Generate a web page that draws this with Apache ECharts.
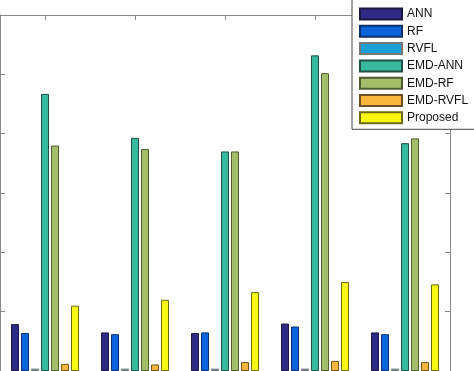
<!DOCTYPE html>
<html><head><meta charset="utf-8">
<script src="https://cdn.jsdelivr.net/npm/echarts@6/dist/echarts.min.js"></script>
<style>html,body{margin:0;padding:0;background:#fff}#c{width:474px;height:371px}</style>
</head><body><div id="c"></div>
<script>
const categories = ['1', '2', '3', '4', '5'];
const seriesNames = ['ANN', 'RF', 'RVFL', 'EMD-ANN', 'EMD-RF', 'EMD-RVFL', 'Proposed'];
const ANN = [0.79, 0.65, 0.64, 0.80, 0.65];
const RF = [0.64, 0.62, 0.65, 0.75, 0.62];
const RVFL = [0.04, 0.04, 0.04, 0.04, 0.04];
const EMD_ANN = [4.67, 3.93, 3.70, 5.32, 3.84];
const EMD_RF = [3.80, 3.74, 3.70, 5.02, 3.92];
const EMD_RVFL = [0.12, 0.11, 0.15, 0.17, 0.15];
const Proposed = [1.10, 1.20, 1.33, 1.50, 1.46];
const yTicks = [0, 1, 2, 3, 4, 5, 6];

const values = [ANN, RF, RVFL, EMD_ANN, EMD_RF, EMD_RVFL, Proposed];
const colors = ['#2f2a86', '#0a64de', '#1a9fd6', '#36b99c', '#a3bd68', '#fbb73c', '#f8f810'];
const borders = ['#1a1740', '#0b2f66', '#777', '#1f4f45', '#4e5a30', '#6b5020', '#6b6a10'];
const axisColor = '#888';

const chart = echarts.init(document.getElementById('c'));
chart.setOption({
  animation: false,
  backgroundColor: '#fff',
  grid: { left: 0, right: 24, top: 15, bottom: 0, containLabel: false, outerBoundsMode: 'none' },
  legend: {
    orient: 'vertical',
    left: 352, top: -10,
    padding: [17.5, 40, 5, 7],
    itemWidth: 42, itemHeight: 11, itemGap: 4.3,
    icon: 'rect',
    backgroundColor: '#fff',
    borderColor: '#444', borderWidth: 1,
    textStyle: { fontFamily: 'Liberation Sans, Arial, sans-serif', fontSize: 12, color: '#111', lineHeight: 13 },
    data: seriesNames
  },
  xAxis: [
    { type: 'category', position: 'top', data: categories,
      axisLine: { show: true, onZero: false, lineStyle: { color: axisColor, width: 1 } },
      axisTick: { show: true, inside: true, alignWithLabel: true, length: 5, lineStyle: { color: axisColor } },
      axisLabel: { show: false }, splitLine: { show: false } }
  ],
  yAxis: [
    { type: 'value', position: 'left', min: yTicks[0], max: yTicks[yTicks.length - 1], interval: 1,
      axisLine: { show: true, onZero: false, lineStyle: { color: axisColor } },
      axisTick: { show: true, inside: true, length: 5, lineStyle: { color: axisColor } },
      axisLabel: { show: false }, splitLine: { show: false } },
    { type: 'value', position: 'right', min: yTicks[0], max: yTicks[yTicks.length - 1], interval: 1,
      axisLine: { show: true, onZero: false, lineStyle: { color: axisColor } },
      axisTick: { show: true, inside: true, length: 5, lineStyle: { color: axisColor } },
      axisLabel: { show: false }, splitLine: { show: false } }
  ],
  series: seriesNames.map((n, i) => ({
    name: n, type: 'bar', data: values[i],
    barWidth: 8, barGap: '25%',
    itemStyle: { color: colors[i], borderColor: borders[i], borderWidth: 1 }
  }))
});
</script></body></html>
